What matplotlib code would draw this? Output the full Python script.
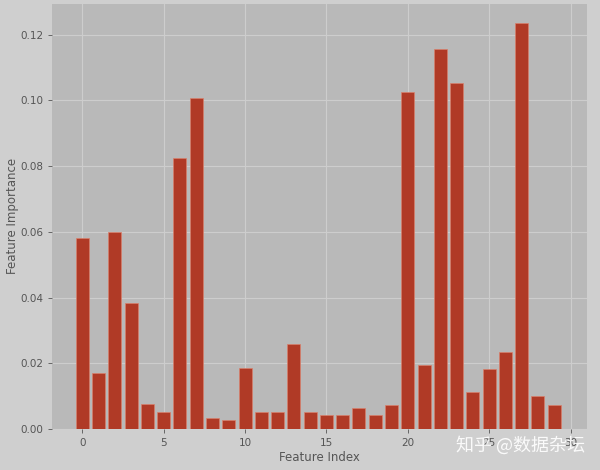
import numpy as np
import matplotlib
matplotlib.use('Agg')
import matplotlib.pyplot as plt

# importancia de cada feature
indices = list(range(30))
importancias = [0.0581, 0.0172, 0.0600, 0.0384, 0.0077, 0.0051, 0.0825, 0.1008,
                0.0033, 0.0027, 0.0187, 0.0052, 0.0052, 0.0260, 0.0051, 0.0044,
                0.0044, 0.0063, 0.0044, 0.0074, 0.1027, 0.0196, 0.1156, 0.1052,
                0.0112, 0.0184, 0.0234, 0.1234, 0.0100, 0.0074]

plt.rcParams['font.family'] = ['DejaVu Sans']

fig = plt.figure(figsize=(6, 4.7), dpi=100, facecolor='#cfcfcf')
ax = fig.add_axes([0.087, 0.087, 0.891, 0.905])
ax.set_facecolor('#b9b9b9')

ax.bar(indices, importancias, width=0.8, color='#b03a26', edgecolor='#d9806c', linewidth=0.5, zorder=3)

ax.set_xlim(-1.85, 31.0)
ax.set_ylim(0, 0.1294)
ax.set_xticks([0, 5, 10, 15, 20, 25, 30])
ax.set_yticks([0.0, 0.02, 0.04, 0.06, 0.08, 0.10, 0.12])
ax.set_yticklabels(['0.00', '0.02', '0.04', '0.06', '0.08', '0.10', '0.12'])
ax.grid(True, color='#cdcdcd', linewidth=0.8, zorder=0)
for s in ax.spines.values():
    s.set_visible(False)
ax.tick_params(colors='#555555', labelsize=7.5, length=3, width=0.6)

ax.set_xlabel('Feature Index', color='#555555', fontsize=8.5, labelpad=2)
ax.set_ylabel('Feature Importance', color='#555555', fontsize=8.5, labelpad=1)

# marca de agua
fig.text(0.76, 0.052, '知乎 @数据杂坛', color='white', fontsize=13, alpha=0.9,
         family=['Noto Sans CJK SC', 'DejaVu Sans'], va='center')

plt.savefig('out.png', dpi=100, facecolor=fig.get_facecolor())
